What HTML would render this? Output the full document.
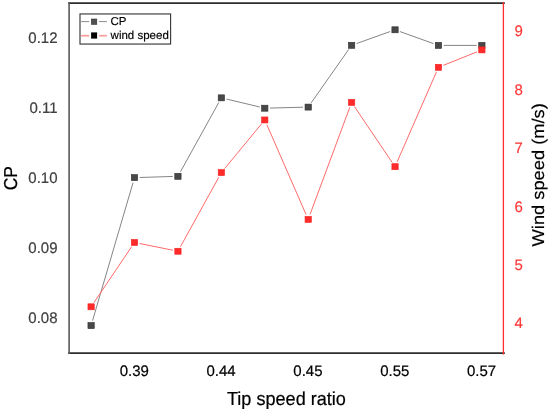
<!DOCTYPE html>
<html><head><meta charset="utf-8"><style>
html,body{margin:0;padding:0;background:#fff;}
svg{display:block;}
text{font-family:"Liberation Sans",Arial,sans-serif;text-rendering:geometricPrecision;}
</style></head><body>
<svg width="550" height="412" viewBox="0 0 550 412">
<rect width="550" height="412" fill="#fff"/>
<g stroke="#858585" stroke-width="1" fill="none">
<line x1="92.56" y1="320.61" x2="133.06" y2="182.64"/>
<line x1="139.72" y1="177.49" x2="172.74" y2="176.46"/>
<line x1="180.46" y1="171.75" x2="218.84" y2="102.40"/>
<line x1="226.42" y1="99.06" x2="259.72" y2="106.99"/>
<line x1="269.98" y1="108.07" x2="303.00" y2="107.23"/>
<line x1="311.19" y1="102.85" x2="348.63" y2="49.55"/>
<line x1="356.52" y1="43.55" x2="390.14" y2="31.55"/>
<line x1="399.93" y1="31.56" x2="433.57" y2="43.64"/>
<line x1="443.66" y1="45.40" x2="476.68" y2="45.40"/>
</g>
<g stroke="#ff6a6a" stroke-width="1" fill="none">
<line x1="94.01" y1="302.49" x2="131.61" y2="246.76"/>
<line x1="139.62" y1="243.48" x2="172.84" y2="250.22"/>
<line x1="180.45" y1="246.70" x2="218.85" y2="177.15"/>
<line x1="224.67" y1="168.59" x2="261.47" y2="123.96"/>
<line x1="266.86" y1="124.72" x2="306.12" y2="214.63"/>
<line x1="310.01" y1="214.52" x2="349.81" y2="107.28"/>
<line x1="354.53" y1="106.71" x2="392.13" y2="162.39"/>
<line x1="397.12" y1="161.93" x2="436.38" y2="72.07"/>
<line x1="443.29" y1="65.37" x2="477.05" y2="51.83"/>
</g>
<g fill="#484848" stroke="#2e2e2e" stroke-width="0.6">
<rect x="87.95" y="322.60" width="6.3" height="6.0"/>
<rect x="131.37" y="174.65" width="6.3" height="6.0"/>
<rect x="174.79" y="173.30" width="6.3" height="6.0"/>
<rect x="218.21" y="94.85" width="6.3" height="6.0"/>
<rect x="261.63" y="105.20" width="6.3" height="6.0"/>
<rect x="305.05" y="104.10" width="6.3" height="6.0"/>
<rect x="348.47" y="42.30" width="6.3" height="6.0"/>
<rect x="391.89" y="26.80" width="6.3" height="6.0"/>
<rect x="435.31" y="42.40" width="6.3" height="6.0"/>
<rect x="478.73" y="42.40" width="6.3" height="6.0"/>
</g>
<g fill="#ff2a2a" stroke="#f52020" stroke-width="0.6">
<rect x="87.95" y="303.80" width="6.3" height="6.0"/>
<rect x="131.37" y="239.45" width="6.3" height="6.0"/>
<rect x="174.79" y="248.25" width="6.3" height="6.0"/>
<rect x="218.21" y="169.60" width="6.3" height="6.0"/>
<rect x="261.63" y="116.95" width="6.3" height="6.0"/>
<rect x="305.05" y="216.40" width="6.3" height="6.0"/>
<rect x="348.47" y="99.40" width="6.3" height="6.0"/>
<rect x="391.89" y="163.70" width="6.3" height="6.0"/>
<rect x="435.31" y="64.30" width="6.3" height="6.0"/>
<rect x="478.73" y="46.90" width="6.3" height="6.0"/>
</g>
<!-- frame -->
<line x1="68.2" y1="3.2" x2="504.8" y2="3.2" stroke="#2e2e2e" stroke-width="1.7"/>
<line x1="68.2" y1="353.05" x2="504.8" y2="353.05" stroke="#2e2e2e" stroke-width="1.8"/>
<line x1="69.1" y1="2.3" x2="69.1" y2="353.9" stroke="#5a5a5a" stroke-width="1.6"/>
<line x1="503.4" y1="2.1" x2="503.4" y2="354.6" stroke="#ff2e2e" stroke-width="1.3"/>
<!-- legend -->
<rect x="80.0" y="13.95" width="90.6" height="30.1" fill="#fff" stroke="#3a3a3a" stroke-width="1.15"/>
<g stroke="#8a8a8a" stroke-width="1"><line x1="81.1" y1="21.6" x2="89.2" y2="21.6"/><line x1="99.1" y1="21.6" x2="106.9" y2="21.6"/></g>
<rect x="91.4" y="19.0" width="5.4" height="5.4" fill="#505050" stroke="#333" stroke-width="0.6"/>
<g stroke="#ff9a9a" stroke-width="1.7"><line x1="81.1" y1="35.7" x2="89.2" y2="35.7"/><line x1="99.1" y1="35.7" x2="106.9" y2="35.7"/></g>
<rect x="91.1" y="32.4" width="6.0" height="6.2" fill="#000"/>
<g font-size="11.5" fill="#000" stroke="#000" stroke-width="0.15">
<text x="110.4" y="25.1">CP</text>
<text x="110.6" y="38.6">wind speed</text>
</g>
<!-- ticks -->
<g font-size="15" fill="#404040" stroke="#404040" stroke-width="0.2" text-anchor="end">
<text transform="translate(57.50,42.83) scale(1,1.02)">0.12</text>
<text transform="translate(57.50,112.83) scale(1,1.02)">0.11</text>
<text transform="translate(57.50,182.83) scale(1,1.02)">0.10</text>
<text transform="translate(57.50,252.83) scale(1,1.02)">0.09</text>
<text transform="translate(57.50,322.83) scale(1,1.02)">0.08</text>
</g>
<g font-size="15" fill="#ff3535" stroke="#ff3535" stroke-width="0.15">
<text transform="translate(514.60,36.33) scale(1,1.02)">9</text>
<text transform="translate(514.60,94.74) scale(1,1.02)">8</text>
<text transform="translate(514.60,153.15) scale(1,1.02)">7</text>
<text transform="translate(514.60,211.56) scale(1,1.02)">6</text>
<text transform="translate(514.60,269.97) scale(1,1.02)">5</text>
<text transform="translate(514.60,328.38) scale(1,1.02)">4</text>
</g>
<g font-size="15" fill="#000" stroke="#000" stroke-width="0.2" text-anchor="middle">
<text transform="translate(134.22,376.20) scale(1,1.02)">0.39</text>
<text transform="translate(221.06,376.20) scale(1,1.02)">0.44</text>
<text transform="translate(307.90,376.20) scale(1,1.02)">0.45</text>
<text transform="translate(394.74,376.20) scale(1,1.02)">0.55</text>
<text transform="translate(481.58,376.20) scale(1,1.02)">0.57</text>
</g>
<!-- axis titles -->
<g fill="#000" stroke="#000" stroke-width="0.2">
<text transform="translate(286.4,404.9) scale(1,1.04)" font-size="18.1" text-anchor="middle">Tip speed ratio</text>
<text transform="translate(17.0,178.15) rotate(-90) scale(1,1.075)" font-size="17.4" text-anchor="middle">CP</text>
<text transform="translate(543.7,174.8) rotate(-90) scale(1,0.93)" font-size="18.3" text-anchor="middle">Wind speed (m/s)</text>
</g>
</svg>
</body></html>
